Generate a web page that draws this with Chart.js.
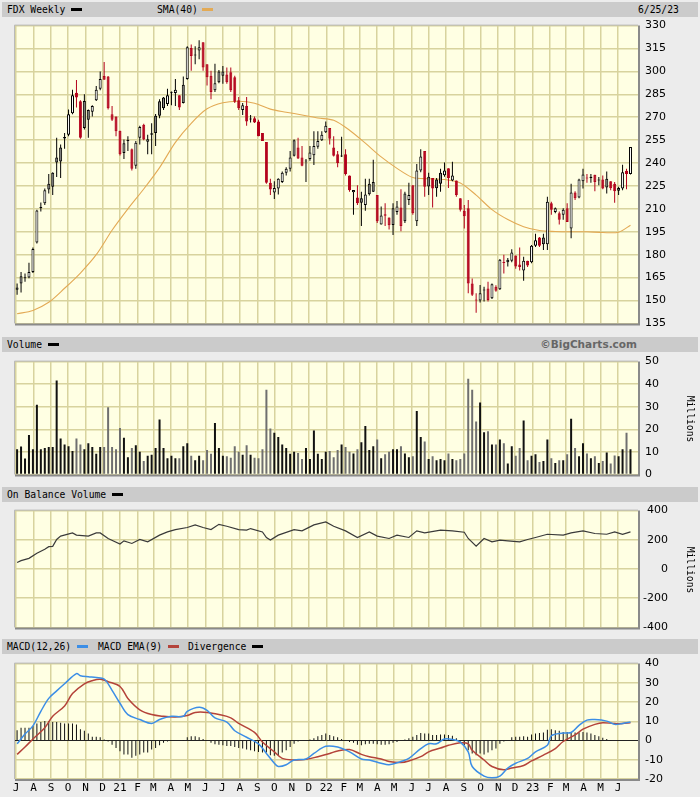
<!DOCTYPE html>
<html>
<head>
<meta charset="utf-8">
<title>FDX Weekly</title>
<script src="https://cdn.jsdelivr.net/npm/chart.js"></script>
<style>
  html, body { margin: 0; padding: 0; }
  body { position: relative; width: 700px; height: 797px; background: #ececec; overflow: hidden;
         font-family: "DejaVu Sans Mono", monospace; font-size: 9.7px; color: #000; }
  .bar { position: absolute; left: 2px; width: 696px; height: 15px; background: #cbcbcb; }
  .lbl { position: absolute; top: 2px; white-space: nowrap; line-height: 11px; }
  .sw { position: absolute; top: 6px; width: 11px; height: 3px; }
  .copy { position: absolute; top: 1px; right: 61px; font: bold 10.5px "DejaVu Sans", sans-serif; color: #666; }
  canvas { position: absolute; left: 0; }
  .units { position: absolute; left: 665px; width: 50px; text-align: center; line-height: 12px; transform: rotate(90deg); }
</style>
</head>
<body>
<div class="bar" style="top:2px">
  <span class="lbl" style="left:5px">FDX Weekly</span><i class="sw" style="left:69px;background:#000"></i>
  <span class="lbl" style="left:155px">SMA(40)</span><i class="sw" style="left:200px;background:#e3aa55"></i>
  <span class="lbl" style="left:636px">6/25/23</span>
</div>
<div class="bar" style="top:337px">
  <span class="lbl" style="left:5px">Volume</span><i class="sw" style="left:46px;background:#000"></i>
  <span class="copy">&copy;BigCharts.com</span>
</div>
<div class="bar" style="top:487px">
  <span class="lbl" style="left:5px">On Balance Volume</span><i class="sw" style="left:110px;background:#000"></i>
</div>
<div class="bar" style="top:639px">
  <span class="lbl" style="left:5px">MACD(12,26)</span><i class="sw" style="left:75px;background:#3c8ee6"></i>
  <span class="lbl" style="left:96px">MACD EMA(9)</span><i class="sw" style="left:166px;background:#b4433a"></i>
  <span class="lbl" style="left:186px">Divergence</span><i class="sw" style="left:250px;background:#000"></i>
</div>

<canvas id="price" width="700" height="325" style="top:12px"></canvas>
<canvas id="volume" width="700" height="140" style="top:348px"></canvas>
<canvas id="obv" width="700" height="138" style="top:500px"></canvas>
<canvas id="macd" width="700" height="147" style="top:650px"></canvas>
<div class="units" style="top:413px">Millions</div>
<div class="units" style="top:564px">Millions</div>

<script>
// weekly bars, week 0 = week ending 2020-07-03
const opens = [157,165.9,165,165,168.7,187.9,210.5,213.6,226.5,233.6,243.6,250.1,257,258.6,272.6,286,280.5,280.7,274.7,273.6,
  281.1,288.6,297,296.6,271.9,270.4,261.2,252.9,255,249,238.3,256.5,265,254,259.5,270.9,280.5,282.9,278.6,286,
  285.9,284.4,291.2,295.1,315.4,310.5,313.7,319.1,304.7,297.2,287.6,300,300,297.9,299.4,296.1,281.1,274.7,277.3,268.5,
  269.4,267.2,259.7,253.7,227.1,220.7,223.3,227.6,233.6,236.2,255,250.1,243.6,241,242.6,245.1,250.7,255,260.1,262.9,
  250.1,245.8,244.3,245.8,231.9,220.8,217.5,216.9,212.6,226.5,227.6,219,199.7,206.5,204.4,210.4,207.9,210.9,220.1,215.8,
  225.4,201.9,235.1,247.9,231,230.2,229.3,233.6,232,236.6,228.6,228.6,216.9,208.7,210.4,161.2,150,150,156.5,157.9,
  151.5,159,157.3,174.5,176.6,176.1,179.4,173.5,169.7,176.1,175.1,185.8,191.2,191.2,186.9,213.6,207.9,207.2,206.2,210.4,
  197.2,220.7,217.5,228,229.8,230.2,232.3,228.6,229.3,229.7,228,226.5,223.7,223.3,235,232.9];
const highs = [161.2,168.7,167.6,174.7,184.7,209.4,214.1,223.3,232.9,234,256.5,252.2,259.7,275.1,288,294.4,281.1,285,275,277.9,
  290.4,300,306.2,297,277.3,270.4,261.2,255.4,257.6,249.5,254.4,264.4,265.7,258.6,266.1,272.1,281.8,283.3,288.6,286.9,
  295.1,284.4,296.6,316.5,317.6,316.5,320.4,319.1,304.7,300.4,305.1,300.9,303.6,302.6,302.6,297.2,283.3,279.4,283.3,271.5,
  270.4,268.3,259.7,253.7,229.7,228,230,234.4,237.2,247.9,255.4,256.5,251.1,242.6,251.1,260.8,260.8,260.8,267.2,262.9,
  257.6,247.9,257.2,249,231.9,222.2,225.4,221.2,229.7,229.7,242.1,219,211.5,213.6,204.4,213.6,215.2,222.9,221.2,227.1,
  225.4,239.4,249,247.9,233.6,230.2,230.2,236.2,240.4,236.6,240.9,228.6,216.9,212.6,215.8,164.4,154.7,160.1,159,162.2,
  161.2,160,177.2,180,177.9,183.6,179.4,184.7,178.7,176.1,186.4,193.7,191.5,193.7,217.9,214.7,210.9,208.3,210.4,213.6,
  226.5,221.6,229.7,236.2,232.9,232.9,232.3,230.8,231.9,234.4,228,227.6,224.4,238.9,236.2,250.5];
const lows = [153.7,155.2,162.2,164.6,168,187.3,208.3,212.6,220.1,219,230.8,230.2,249.4,257.6,271.9,276.4,255.9,261.9,256.5,270.4,
  280.7,287.6,294.5,275,267.6,257.6,245,242.6,247.9,235.1,236.2,252.2,255,245.8,245.8,251.1,269.4,274.7,277.3,277.9,
  277.3,274.7,279,294.6,300.4,304.7,307.9,300.4,290.8,281.8,286.5,292.3,291.9,291.9,286.5,279.4,274.7,271.5,264.4,266.6,
  266.2,257.6,254.4,226.5,219,216.4,219.4,227,231.9,234.4,244.3,242.6,237.9,227.6,241.5,238.7,249.4,254.4,259.7,252.2,
  244.3,237.2,244,231.9,221.2,206.2,212.6,198.7,208.7,218.8,221,200.8,199.7,198.7,196.5,192.9,206.2,195.4,200.8,212.6,
  206.2,198.7,234,217.9,219,210.9,217.9,221.2,231,223.7,228,218,208.3,197.2,154.7,153,141.9,148.7,149.4,149.4,
  150.9,155.8,156.9,167.6,172.3,175,170.8,169.7,162.9,171.9,174.4,185.1,185.1,183,183,206.2,207.2,199.7,202.9,201.4,
  190.7,215.8,216.9,223.3,227.1,227.1,221.6,225.4,222.9,220.1,222.2,214,219,222.2,222.9,232.5];
const closes = [158.5,161.2,164.5,168.7,183.7,208.9,211,222.2,222.6,224.4,240.4,241,256.1,271.9,284.4,283,256.5,262.9,268.3,277.3,
  288,295.1,294.5,275.8,268.3,260.8,245.8,246.5,254.4,236.2,253.3,263.6,255.4,255.6,258.6,259.7,270.9,275.8,284.4,286.5,
  288,276.4,279.4,315.9,310.1,311.1,315.9,302.6,296.1,286.5,292.3,292.9,297.2,292.9,287.6,280.1,275.8,277.9,267.2,268.9,
  266.6,257.6,254.4,227.1,222.6,223.7,229.7,233.6,236.2,243.6,244.7,243,238.3,241.5,246.9,251.1,254.4,258.6,264.4,255.9,
  244.7,240,244.7,232.9,222.2,222.4,213.6,214,219.4,219.6,221.2,201.9,205.7,205.5,199.3,199.5,211.5,198.7,201.9,219,
  207.2,235.1,244.3,224.4,224.6,223.3,223.5,226.5,235.1,230.2,231.9,219,209.4,205.1,161.2,153.7,150.4,154.7,157,150.4,
  160.7,156.4,176.6,174.7,175,181.5,172.3,172,176.1,172.9,185.8,189.4,185.8,186.9,214.7,209.4,210.4,202.9,209.4,201.4,
  220.7,216.9,229.3,232.5,230.6,231,227.6,229.1,223.3,224,223.5,221.6,221.8,234,232.9,250.5];

// weekly volume, millions
const volumes = [11.2,12.4,7,17.5,11.2,30.9,11.2,11.7,12.1,12.1,41.6,15.9,13.3,12.5,10.4,15.9,13.3,11.2,13.8,12.1,
  9.1,12.1,12.1,29.8,12.1,11.2,20.6,16.3,7.6,11.7,12.9,10,5.9,8.3,8.7,11.7,24.3,11.7,7.2,8.3,
  7.2,7.2,12.5,13.8,8.3,6.3,8.3,6.3,10.8,9.1,22.8,11.7,8.3,8,7.4,12.5,10,8.7,12.9,8.7,
  7.4,7.2,11.2,37.5,20.4,18.5,16.6,13.3,11.7,9.1,10,9.5,6.8,11.7,6.8,19.5,9.1,6.8,10,10.4,
  7.6,10.8,13.3,12.1,10,9.3,11.2,14.2,21.5,10.8,12.5,15.5,7.2,8.9,10,11.2,11.2,12.5,9.3,7.6,
  8,28.1,16.6,14.6,6.8,8,6.3,6.8,6.3,9.3,6.8,6.3,6.8,9.3,42.4,37.5,23.5,31.9,18.7,19.1,
  13.3,13.3,15.5,13.8,4.8,12.5,8.3,11.7,23.9,6.3,8.3,8.9,5.5,5.9,15.5,7.2,5.1,6.3,6.3,8.9,
  24.7,11.7,8,13.8,9.3,7.2,8,5.1,5.9,9.7,4.8,8.4,8,11.2,18.5,11.2];

const smaWeeks = [0,4,8,12,16,20,24,28,32,36,40,44,48,52,56,60,64,68,72,76,80,84,88,92,96,100,104,108,112,116,120,124,128,132,136,140,144,148,152,155];
const smaValues = [141.3,143.5,148.8,158,168,180,196,210,223,237,253.5,266,275.5,279.5,280.5,279.2,275.3,273.3,271.5,269.5,
  268,261.5,253,244,236.5,230.5,229.7,229.2,227,219,209.5,203,198.3,195.8,195.2,195,195,194.5,194.7,199.3];

const obvWeeks = [0,1,3,5,7,8,9,10,11,14,15,18,20,21,23,26,27,29,31,33,36,38,40,43,45,47,49,51,53,56,58,59,62,63,64,66,70,72,75,78,
  80,83,86,89,91,94,96,99,101,103,107,110,113,114,116,118,120,122,124,127,129,131,134,138,140,143,146,149,151,153,155];
const obvValues = [45,57,73,108,135,153,155,202,225,247,232,225,247,247,209,171,193,175,202,186,232,254,270,284,302,284,270,306,293,270,266,277,254,215,198,232,270,261,302,322,
  293,261,216,254,225,209,232,216,261,247,266,261,252,209,157,209,186,198,193,186,202,216,238,232,247,261,243,238,254,238,254];

const macdWeeks = [0,2,4,6,8,10,12,15,16,18,20,22,24,26,28,31,34,36,39,42,43,46,48,50,53,55,58,61,63,65,
  66,68,70,73,75,78,81,84,87,89,92,94,97,99,102,104,106,108,110,112,114,115,118,120,122,124,126,129,131,134,
  135,138,140,142,144,146,149,151,153,155];
const macdValues = [-1.7,3.4,7.6,15.2,21.9,25.8,29.5,34.8,33.7,33.2,32.8,32,26.1,19.4,13.5,10.9,8.9,10.9,12.6,12.6,
  15.2,17.3,15.7,11.8,9.6,5.1,1.7,-1.7,-6.7,-11.8,-13.5,-12.6,-10.1,-9.6,-6.7,-3,-3.4,-5.9,-9.6,-10.1,
  -11.8,-12.6,-10.9,-9.3,-4.2,-1.7,-1.7,0.8,0.5,-0.8,-5.9,-13.5,-18.5,-19.4,-18.5,-14.3,-11.8,-9.3,-5.9,-2.5,
  2.5,3.9,4.2,7.9,10.6,10.9,10.1,8.4,8.9,9.6];
const emaWeeks = [0,2,4,7,9,12,14,17,19,21,23,26,28,31,34,37,40,43,45,48,51,54,56,60,62,65,67,70,73,76,
  79,81,84,87,89,92,94,97,99,102,104,107,109,112,114,115,118,120,123,125,128,130,133,136,138,141,143,146,148,151,153,155];
const emaValues = [-7.2,-3.4,0.8,6.7,12.6,18,24.4,29.5,31.1,31.8,30.6,28.1,21.9,16,13.5,12.6,12.3,13,14.6,14.6,
  13.5,11.8,8.9,4.2,-0.8,-5.9,-9.3,-10.1,-9.8,-8.4,-6.7,-5.4,-4.7,-7.2,-8.4,-9.6,-10.9,-11.4,-10.6,-8.4,
  -5.9,-3.9,-2.5,-1.2,-1.7,-5.1,-10.1,-13.5,-15.2,-14.3,-13,-10.6,-7.6,-4.2,-0.5,2.9,5.9,8.4,9.3,8.8,8.9,9.3];
const divergence = [5.4,6.6,6.6,6.6,7.6,8.9,9.6,10.1,10.1,9.6,9.6,9.3,8.9,8.9,8.9,8.4,5.9,5.1,3.7,2,
  2,1.7,0.5,-0.5,-2.2,-3.9,-5.6,-7.2,-7.2,-8.9,-7.9,-7.2,-6.2,-6.2,-4.7,-3.9,-2.5,-1.2,-0.5,-0.3,
  -0.2,-0.2,0.2,1.7,2.2,2.2,1.7,0.8,-0.2,-1.2,-1.9,-2.2,-2.5,-2.9,-2.9,-3.4,-3.9,-4.2,-4.7,-5.1,
  -5.6,-5.9,-6.2,-6.2,-7.6,-7.9,-7.6,-6.2,-5.1,-3.4,-1.7,-0.5,-0.3,-0.2,0.5,1.2,2.2,2.9,3.7,2.9,
  2.2,1.7,0.8,-0.2,-0.8,-1.2,-2.2,-2.5,-1.9,-1.7,-1.7,-1.9,-2.2,-2.2,-1.9,-1.2,-0.8,-0.3,0.5,1.2,
  2,2.9,3.9,3.7,3.7,2.9,2.9,3.2,3.2,2.9,2.5,1.2,-0.5,-2.5,-5.1,-6.7,-7.6,-6.7,-7.2,-6.2,
  -5.1,-4.2,-1.7,-0.5,-0.3,1.7,2,2,2.2,2,3.2,3.7,3.9,4.2,5.6,5.9,5.4,5.1,4.5,4.5,
  4.2,4.2,4.2,4.5,4.2,3.7,2.9,2.2,1.5,0.8,0.2,0,-0.2,0,0,0.3];

const monthLetters = "JFMAMJJASOND";
const priceTicks = { min: 135, max: 330, step: 15 };
const volumeTicks = { min: 0, max: 50, step: 10 };
const obvTicks = { min: -400, max: 400, step: 200 };
const macdTicks = { min: -20, max: 40, step: 10 };

const RED = "#b3001b";
const GRAY_BODY = "#8c8c8c";
const GRID = "#d8d39e";
const PLOT_BG = "#ffffe3";

// month gridlines, in week units
const weekStart = Date.UTC(2020, 6, 3);
const weekOf = (y, m, d) => (Date.UTC(y, m, d) - weekStart) / (7 * 86400000);
const monthTicks = [];
for (let k = 0; k < 36; k++) {
  const y = 2020 + Math.floor((6 + k) / 12);
  const m = (6 + k) % 12;
  monthTicks.push({ value: weekOf(y, m, 1), label: m === 0 ? String(y).slice(2) : monthLetters[m] });
}

const isUp = i => i === 0 || closes[i] >= closes[i - 1];
const bodyFill = i => !isUp(i) ? RED : (closes[i] < opens[i] ? GRAY_BODY : "#ffffff");
const lineColor = i => isUp(i) ? "#000" : RED;

const plotFrame = {
  id: "plotFrame",
  beforeDraw(chart) {
    const { ctx, chartArea: a } = chart;
    ctx.save();
    ctx.fillStyle = PLOT_BG;
    ctx.fillRect(a.left, a.top, a.width, a.height);
    ctx.restore();
  },
  afterDraw(chart) {
    const { ctx, chartArea: a } = chart;
    ctx.save();
    ctx.lineWidth = 1;
    ctx.strokeStyle = "#b9b9b9";
    ctx.beginPath();
    ctx.moveTo(a.left - 0.5, a.bottom);
    ctx.lineTo(a.left - 0.5, a.top - 0.5);
    ctx.lineTo(a.right, a.top - 0.5);
    ctx.stroke();
    ctx.strokeStyle = "#8a8a8a";
    ctx.lineWidth = 2;
    ctx.beginPath();
    ctx.moveTo(a.right + 1, a.top);
    ctx.lineTo(a.right + 1, a.bottom + 1);
    ctx.lineTo(a.left, a.bottom + 1);
    ctx.stroke();
    ctx.restore();
  }
};

function xScale(showLabels) {
  return {
    type: "linear",
    min: -0.53,
    max: 156.9,
    offset: false,
    afterBuildTicks: s => { s.ticks = monthTicks.map(t => ({ value: t.value })); },
    afterFit: s => { s.height = showLabels ? 18 : 0; },
    grid: { color: GRID, lineWidth: 1.5, drawTicks: false, offset: false },
    border: { display: false },
    ticks: {
      display: showLabels, autoSkip: false, maxRotation: 0, padding: 3, color: "#000",
      font: { family: "DejaVu Sans Mono", size: 11 },
      callback: (v, i) => monthTicks[i] ? monthTicks[i].label : ""
    }
  };
}

function yScale(t, opts = {}) {
  const width = opts.width || 62;
  return {
    position: "right",
    min: t.min,
    max: t.max,
    afterFit: s => { s.width = width; },
    grid: {
      color: c => (opts.zeroLine && c.tick && c.tick.value === 0) ? "#222" : GRID,
      lineWidth: c => (opts.zeroLine && c.tick && c.tick.value === 0) ? 1 : 1.5,
      drawTicks: false
    },
    border: { display: false },
    ticks: {
      stepSize: t.step, padding: opts.padding || 7, crossAlign: opts.align || "near", color: "#000",
      font: { family: "DejaVu Sans", size: 11 }
    }
  };
}

function panel(id, datasets, y, showX, padRight = 0) {
  return new Chart(document.getElementById(id), {
    type: "bar",
    data: { datasets },
    options: {
      responsive: false,
      animation: false,
      devicePixelRatio: 1,
      layout: { padding: { left: 15, right: padRight, top: 10, bottom: showX ? 0 : 10 } },
      plugins: { legend: { display: false }, tooltip: { enabled: false } },
      scales: { x: xScale(showX), y }
    },
    plugins: [plotFrame]
  });
}

const pts = (xs, ys) => xs.map((x, k) => ({ x, y: ys[k] }));

panel("price", [
  {
    label: "FDX Weekly",
    data: opens.map((o, i) => ({ x: i, y: [o, closes[i]] })),
    grouped: false, barThickness: 3, minBarLength: 1, inflateAmount: 0,
    borderWidth: 1, borderSkipped: false,
    backgroundColor: c => bodyFill(c.dataIndex),
    borderColor: c => lineColor(c.dataIndex)
  },
  {
    label: "range",
    data: lows.map((l, i) => ({ x: i, y: [l, highs[i]] })),
    grouped: false, barThickness: 1, inflateAmount: 0, borderWidth: 0,
    backgroundColor: c => lineColor(c.dataIndex)
  },
  {
    type: "line", label: "SMA(40)",
    data: pts(smaWeeks, smaValues),
    borderColor: "#e3aa55", borderWidth: 1.1, pointRadius: 0, tension: 0.3
  }
], yScale(priceTicks), false);

panel("volume", [
  {
    label: "Volume",
    data: volumes.map((v, i) => ({ x: i, y: v })),
    grouped: false, barThickness: 2, inflateAmount: 0, borderWidth: 0,
    backgroundColor: c => isUp(c.dataIndex) ? "#111" : "#6f6f6f"
  }
], yScale(volumeTicks), false);

// OBV labels are right-aligned at x = 668
panel("obv", [
  {
    type: "line", label: "On Balance Volume",
    data: pts(obvWeeks, obvValues),
    borderColor: "#3a3a3a", borderWidth: 1.2, pointRadius: 0, tension: 0
  }
], yScale(obvTicks, { align: "far", padding: 4, width: 30 }), false, 32);

panel("macd", [
  {
    type: "line", label: "MACD(12,26)",
    data: pts(macdWeeks, macdValues),
    borderColor: "#3c8ee6", borderWidth: 1.5, pointRadius: 0, tension: 0.35
  },
  {
    type: "line", label: "MACD EMA(9)",
    data: pts(emaWeeks, emaValues),
    borderColor: "#b4433a", borderWidth: 1.5, pointRadius: 0, tension: 0.35
  },
  {
    label: "Divergence",
    data: divergence.map((d, i) => ({ x: i, y: d })),
    grouped: false, barThickness: 1, inflateAmount: 0, borderWidth: 0,
    backgroundColor: "#111"
  }
], yScale(macdTicks, { zeroLine: true }), true);
</script>
</body>
</html>
